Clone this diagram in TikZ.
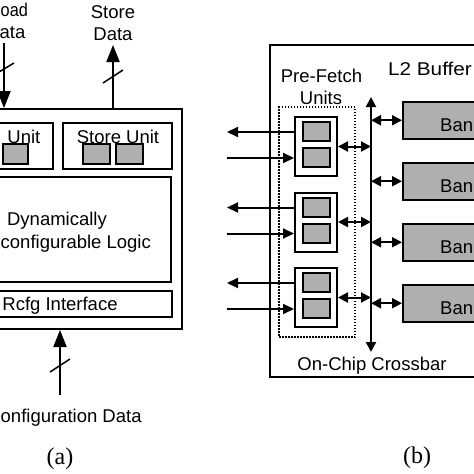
\documentclass[tikz,border=0pt]{standalone}
\usepackage{fontspec}
\usepackage{graphicx}
\setmainfont{Liberation Sans}
\newfontfamily\capfont{Liberation Serif}
\usetikzlibrary{arrows.meta,fit}
\definecolor{boxgray}{RGB}{175,175,175}
\begin{document}
\begin{tikzpicture}[x=1pt,y=-1pt,
  box/.style={draw, line width=2pt, inner sep=0pt},
  gbox/.style={box, fill=boxgray},
  lbl/.style={font=\fontsize{18.5}{22}\selectfont, inner sep=0pt, anchor=base},
  captext/.style={font=\capfont\fontsize{24}{26}\selectfont, inner sep=0pt, anchor=base},
  bigarrow/.style={line width=2pt, -{Triangle[length=17pt,width=13pt]}},
  smallarrow/.style={line width=2pt, -{Triangle[length=11pt,width=10pt]}},
  dblarrow/.style={line width=2pt, {Triangle[length=10pt,width=10pt]}-{Triangle[length=10pt,width=10pt]}},
  slashmark/.style={line width=1.5pt},
  dotbox/.style={draw, line width=1.5pt, dash pattern=on 1.5pt off 1.5pt, inner sep=0pt}
]
\useasboundingbox (0,0) rectangle (474,474);
\clip (0,0) rectangle (474,474);
\fill[white] (0,0) rectangle (474,474);

% ---------------- (a) ----------------
\node[box, fit={(-62,109) (182,329)}] (outA) {};
\node[box, fit={(-52,123) (53,169)}] (loadU) {};
\node[box, fit={(63,123) (172,169)}] (storeU) {};
\node[lbl, anchor=base east] (loadUt) at (40.5,143) {Unit};
\node[lbl] (storeUt) at (118,143) {Store Unit};
\node[gbox, fit={(-30,144) (-3,164)}] (ls1) {};
\node[gbox, fit={(3,144) (28,164)}] (ls2) {};
\node[gbox, fit={(83,144) (110,164)}] (ss1) {};
\node[gbox, fit={(116,144) (143,164)}] (ss2) {};
\node[box, fit={(-51,177) (171,282)}] (logic) {};
\node[lbl] (logt1) at (57,225) {Dynamically};
\node[lbl, anchor=base west] (logt2) at (0.5,248) {configurable Logic};
\node[box, fit={(-52,291) (172,317)}] (rcfg) {};
\node[lbl] (rcfgt) at (60,310) {Rcfg Interface};

\node[lbl, anchor=base west] (ldt1) at (0.5,16) {\scalebox{0.88}[1]{oad}};
\node[lbl, anchor=base east] (ldt2) at (25.5,38) {ata};
\node[lbl] (sdt1) at (113,18) {Store};
\node[lbl] (sdt2) at (113,40) {Data};
\node[lbl, anchor=base west] (cfgt) at (0.5,422) {onfiguration Data};
\node[captext] (capA) at (60,464) {(a)};

\coordinate (ldTop) at (4,43);
\coordinate (sdTop) at (113,45);
\coordinate (cfgBot) at (60,395);
\draw[bigarrow] (ldTop) -- (ldTop |- outA.north);
\draw[bigarrow] (sdTop |- outA.north) -- (sdTop);
\draw[bigarrow] (cfgBot) -- (cfgBot |- outA.south);
\draw[slashmark] (-6,75) -- (14,63);
\draw[slashmark] (103,83) -- (123,70);
\draw[slashmark] (50,372) -- (70,359);

% ---------------- (b) ----------------
\node[box, fit={(270,45) (560,377)}] (outB) {};
\node[lbl] (l2t) at (430,75) {\scalebox{1.12}[1]{L2 Buffer}};
\node[lbl] (pft1) at (321.5,82) {Pre-Fetch};
\node[lbl] (pft2) at (321,104) {Units};
\node[dotbox, fit={(279,107) (355,337)}] (pfgrp) {};
\node[lbl] (xbt) at (372,370) {On-Chip Crossbar};
\node[captext] (capB) at (417,463) {(b)};

\coordinate (cbT) at (371,97);
\coordinate (cbB) at (371,352);
\draw[dblarrow] (cbT) -- (cbB);

\foreach \i/\t in {1/117,2/192.5,3/268} {
  \node[box, fit={(295,\t) (337,\t+59)}] (pf\i) {};
  \node[gbox, fit={(303,\t+5) (330,\t+24)}] (pfa\i) {};
  \node[gbox, fit={(303,\t+31) (330,\t+50)}] (pfb\i) {};
  \coordinate (po\i) at (227,\t+15);
  \coordinate (pi\i) at (227,\t+41);
  \draw[smallarrow] (pf\i.west |- po\i) -- (po\i);
  \draw[smallarrow] (pi\i) -- (pf\i.west |- pi\i);
  \draw[dblarrow] (pf\i.east) -- (pf\i.east -| cbT);
}

\foreach \i/\t in {1/102,2/163,3/224,4/285} {
  \node[gbox, fit={(403,\t) (530,\t+36.5)}] (bk\i) {};
  \node[lbl, anchor=base west] (bkt\i) at (440,\t+29) {Ban};
  \draw[dblarrow] (bk\i.west -| cbT) -- (bk\i.west);
}
\end{tikzpicture}
\end{document}
